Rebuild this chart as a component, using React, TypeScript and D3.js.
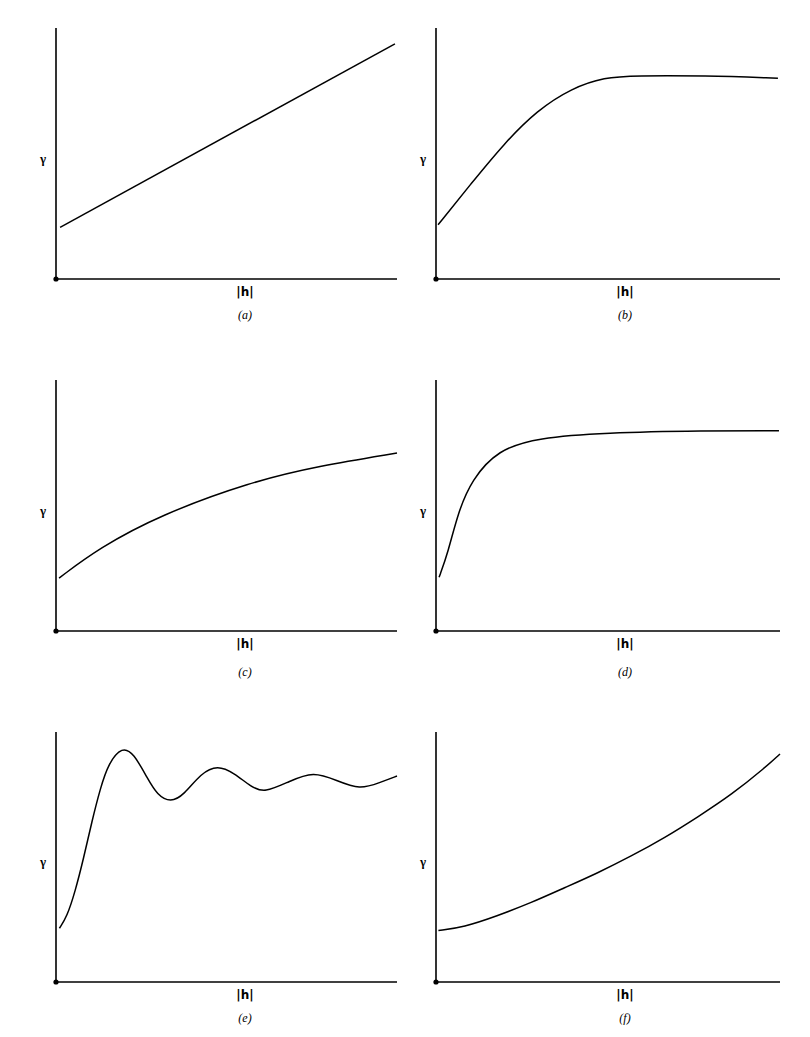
import React from "react";
import * as d3 from "d3";

// panel letters, in reading order
const panelLabels = ["a", "b", "c", "d", "e", "f"];

// each curve as [|h|, gamma] in axis units (0..100 on both axes)
const curveA: [number, number][] = [
  [1.2, 20.6],
  [99.4, 93.7],
];
const curveB: [number, number][] = [
  [0.6, 21.6],
  [10.2, 38],
  [19.8, 54],
  [29.4, 67.2],
  [39.4, 76],
  [49, 80.4],
  [58, 81],
  [78, 81],
  [99.4, 80],
];
const curveC: [number, number][] = [
  [0.9, 21.1],
  [12.7, 33.1],
  [30.5, 46.2],
  [57.1, 59.4],
  [76.9, 65.7],
  [100, 70.9],
];
const curveD: [number, number][] = [
  [0.9, 21.4],
  [3.5, 31.3],
  [6.4, 47.2],
  [10.4, 60.3],
  [18, 72.2],
  [29.6, 77],
  [49, 79],
  [78, 79.8],
  [99.7, 79.8],
];
const curveE: [number, number][] = [
  [1, 21.5],
  [3.2, 26.1],
  [5.6, 36.1],
  [8.1, 49.5],
  [10.5, 64.1],
  [13, 77.5],
  [15.4, 87.5],
  [19.4, 94.2],
  [22.8, 91.5],
  [26.8, 81.5],
  [29.7, 74.8],
  [33.6, 71.8],
  [37.5, 74.8],
  [42.5, 83.5],
  [47.4, 86.8],
  [52.3, 83.5],
  [57.2, 78.1],
  [61.1, 75.6],
  [68.3, 80.2],
  [75.5, 84.3],
  [82.3, 80.6],
  [89.1, 76.9],
  [95, 79.8],
  [100, 82.4],
];
const curveF: [number, number][] = [
  [0.7, 20.6],
  [8, 21.9],
  [17.7, 26.4],
  [27.5, 31.6],
  [37.2, 37.6],
  [47, 43.6],
  [56.7, 50.3],
  [66.5, 57.7],
  [76.2, 66.1],
  [86, 75],
  [95.7, 85.8],
  [100, 91.2],
];
const curves = [curveA, curveB, curveC, curveD, curveE, curveF];

const xLabel = "|h|";
const yLabel = "γ";

// layout of the 3x2 grid (page pixels)
const colLeft = [56, 436];
const colRight = [397, 780];
const rowTop = [28, 380, 732];
const rowBottom = [279, 631, 982];

function Panel({ i }: { i: number }) {
  const col = i % 2;
  const row = Math.floor(i / 2);
  const x0 = colLeft[col];
  const x1 = colRight[col];
  const yTop = rowTop[row];
  const yBot = rowBottom[row];

  const x = d3.scaleLinear().domain([0, 100]).range([x0, x1]);
  const y = d3.scaleLinear().domain([0, 100]).range([yBot, yTop]);

  const line = d3
    .line<[number, number]>()
    .x(d => x(d[0]))
    .y(d => y(d[1]))
    .curve(i === 0 ? d3.curveLinear : d3.curveBasis);

  const labelX = x0 + 189;

  return (
    <g>
      {/* y axis */}
      <line x1={x(0)} x2={x(0)} y1={y(0)} y2={y(100)} stroke="#000" strokeWidth={1.6} />
      {/* x axis */}
      <line x1={x(0)} x2={x(100)} y1={y(0)} y2={y(0)} stroke="#000" strokeWidth={1.4} />
      <circle cx={x(0)} cy={y(0)} r={2.6} fill="#000" />
      <path d={line(curves[i]) || ""} fill="none" stroke="#000" strokeWidth={1.5} />
      <text
        x={x0 - 13}
        y={y(48) + 4}
        textAnchor="middle"
        fontFamily="Liberation Serif"
        fontWeight="bold"
        fontSize={13}
      >
        {yLabel}
      </text>
      <text
        x={labelX}
        y={yBot + 17}
        textAnchor="middle"
        fontFamily="DejaVu Sans"
        fontWeight="bold"
        fontSize={12}
      >
        {xLabel}
      </text>
      <text
        x={labelX}
        y={yBot + (row === 1 ? 45 : 40)}
        textAnchor="middle"
        fontFamily="Liberation Serif"
        fontStyle="italic"
        fontSize={12}
      >
        ({panelLabels[i]})
      </text>
    </g>
  );
}

export default function App() {
  return (
    <svg
      width={810}
      height={1037}
      style={{ position: "absolute", left: 0, top: 0, background: "#fff" }}
    >
      {panelLabels.map((_, i) => (
        <Panel key={i} i={i} />
      ))}
    </svg>
  );
}
